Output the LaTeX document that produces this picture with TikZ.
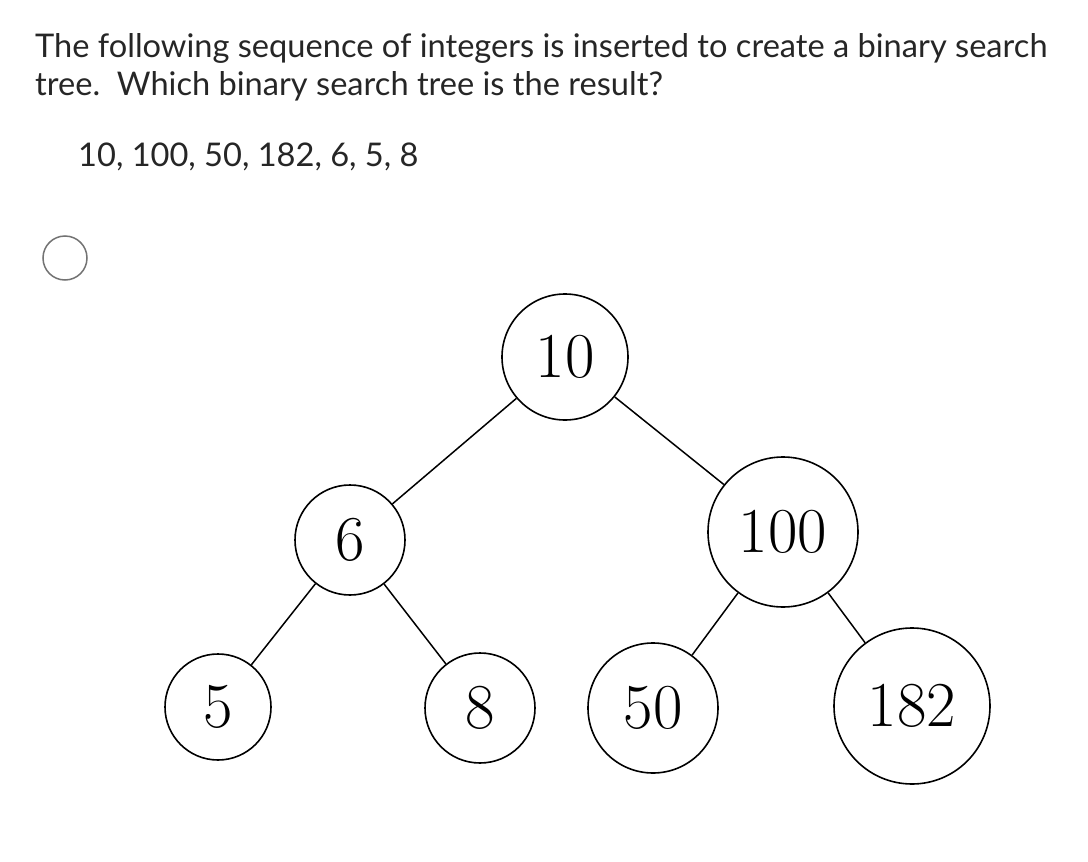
\documentclass[tikz,border=0pt]{standalone}
\usepackage{fontspec}
\newfontfamily\lato{Lato}
\begin{document}
\begin{tikzpicture}[x=1pt,y=-1pt,
  bst/.style={circle,draw,line width=1.6pt,inner sep=0pt,font=\fontsize{64}{64}\selectfont},
  txt/.style={anchor=base west,inner sep=0pt,font=\lato\fontsize{32.6}{32.6}\selectfont,text=black!85}]
\useasboundingbox (0,0) rectangle (1088,862);
\node[txt] (l1) at (35,57) {The following sequence of integers is inserted to create a binary search};
\node[txt] (l2) at (35,95) {tree.\ \ Which binary search tree is the result?};
\node[txt] (l3) at (78,166) {10, 100, 50, 182, 6, 5, 8};
\node[circle,draw=black!55,line width=1.5pt,minimum size=44pt,inner sep=0pt] (radio) at (65,258) {};
\node[bst,minimum size=126pt] (n10) at (565,357) {10};
\node[bst,minimum size=110pt] (n6) at (350,540) {6};
\node[bst,minimum size=150pt] (n100) at (783,532) {100};
\node[bst,minimum size=106pt] (n5) at (218,707) {5};
\node[bst,minimum size=110pt] (n8) at (480,708) {8};
\node[bst,minimum size=130pt] (n50) at (653,708) {50};
\node[bst,minimum size=156pt] (n182) at (912,706) {182};
\draw[line width=1.5pt] (n10)--(n6) (n10)--(n100) (n6)--(n5) (n6)--(n8) (n100)--(n50) (n100)--(n182);
\end{tikzpicture}
\end{document}
